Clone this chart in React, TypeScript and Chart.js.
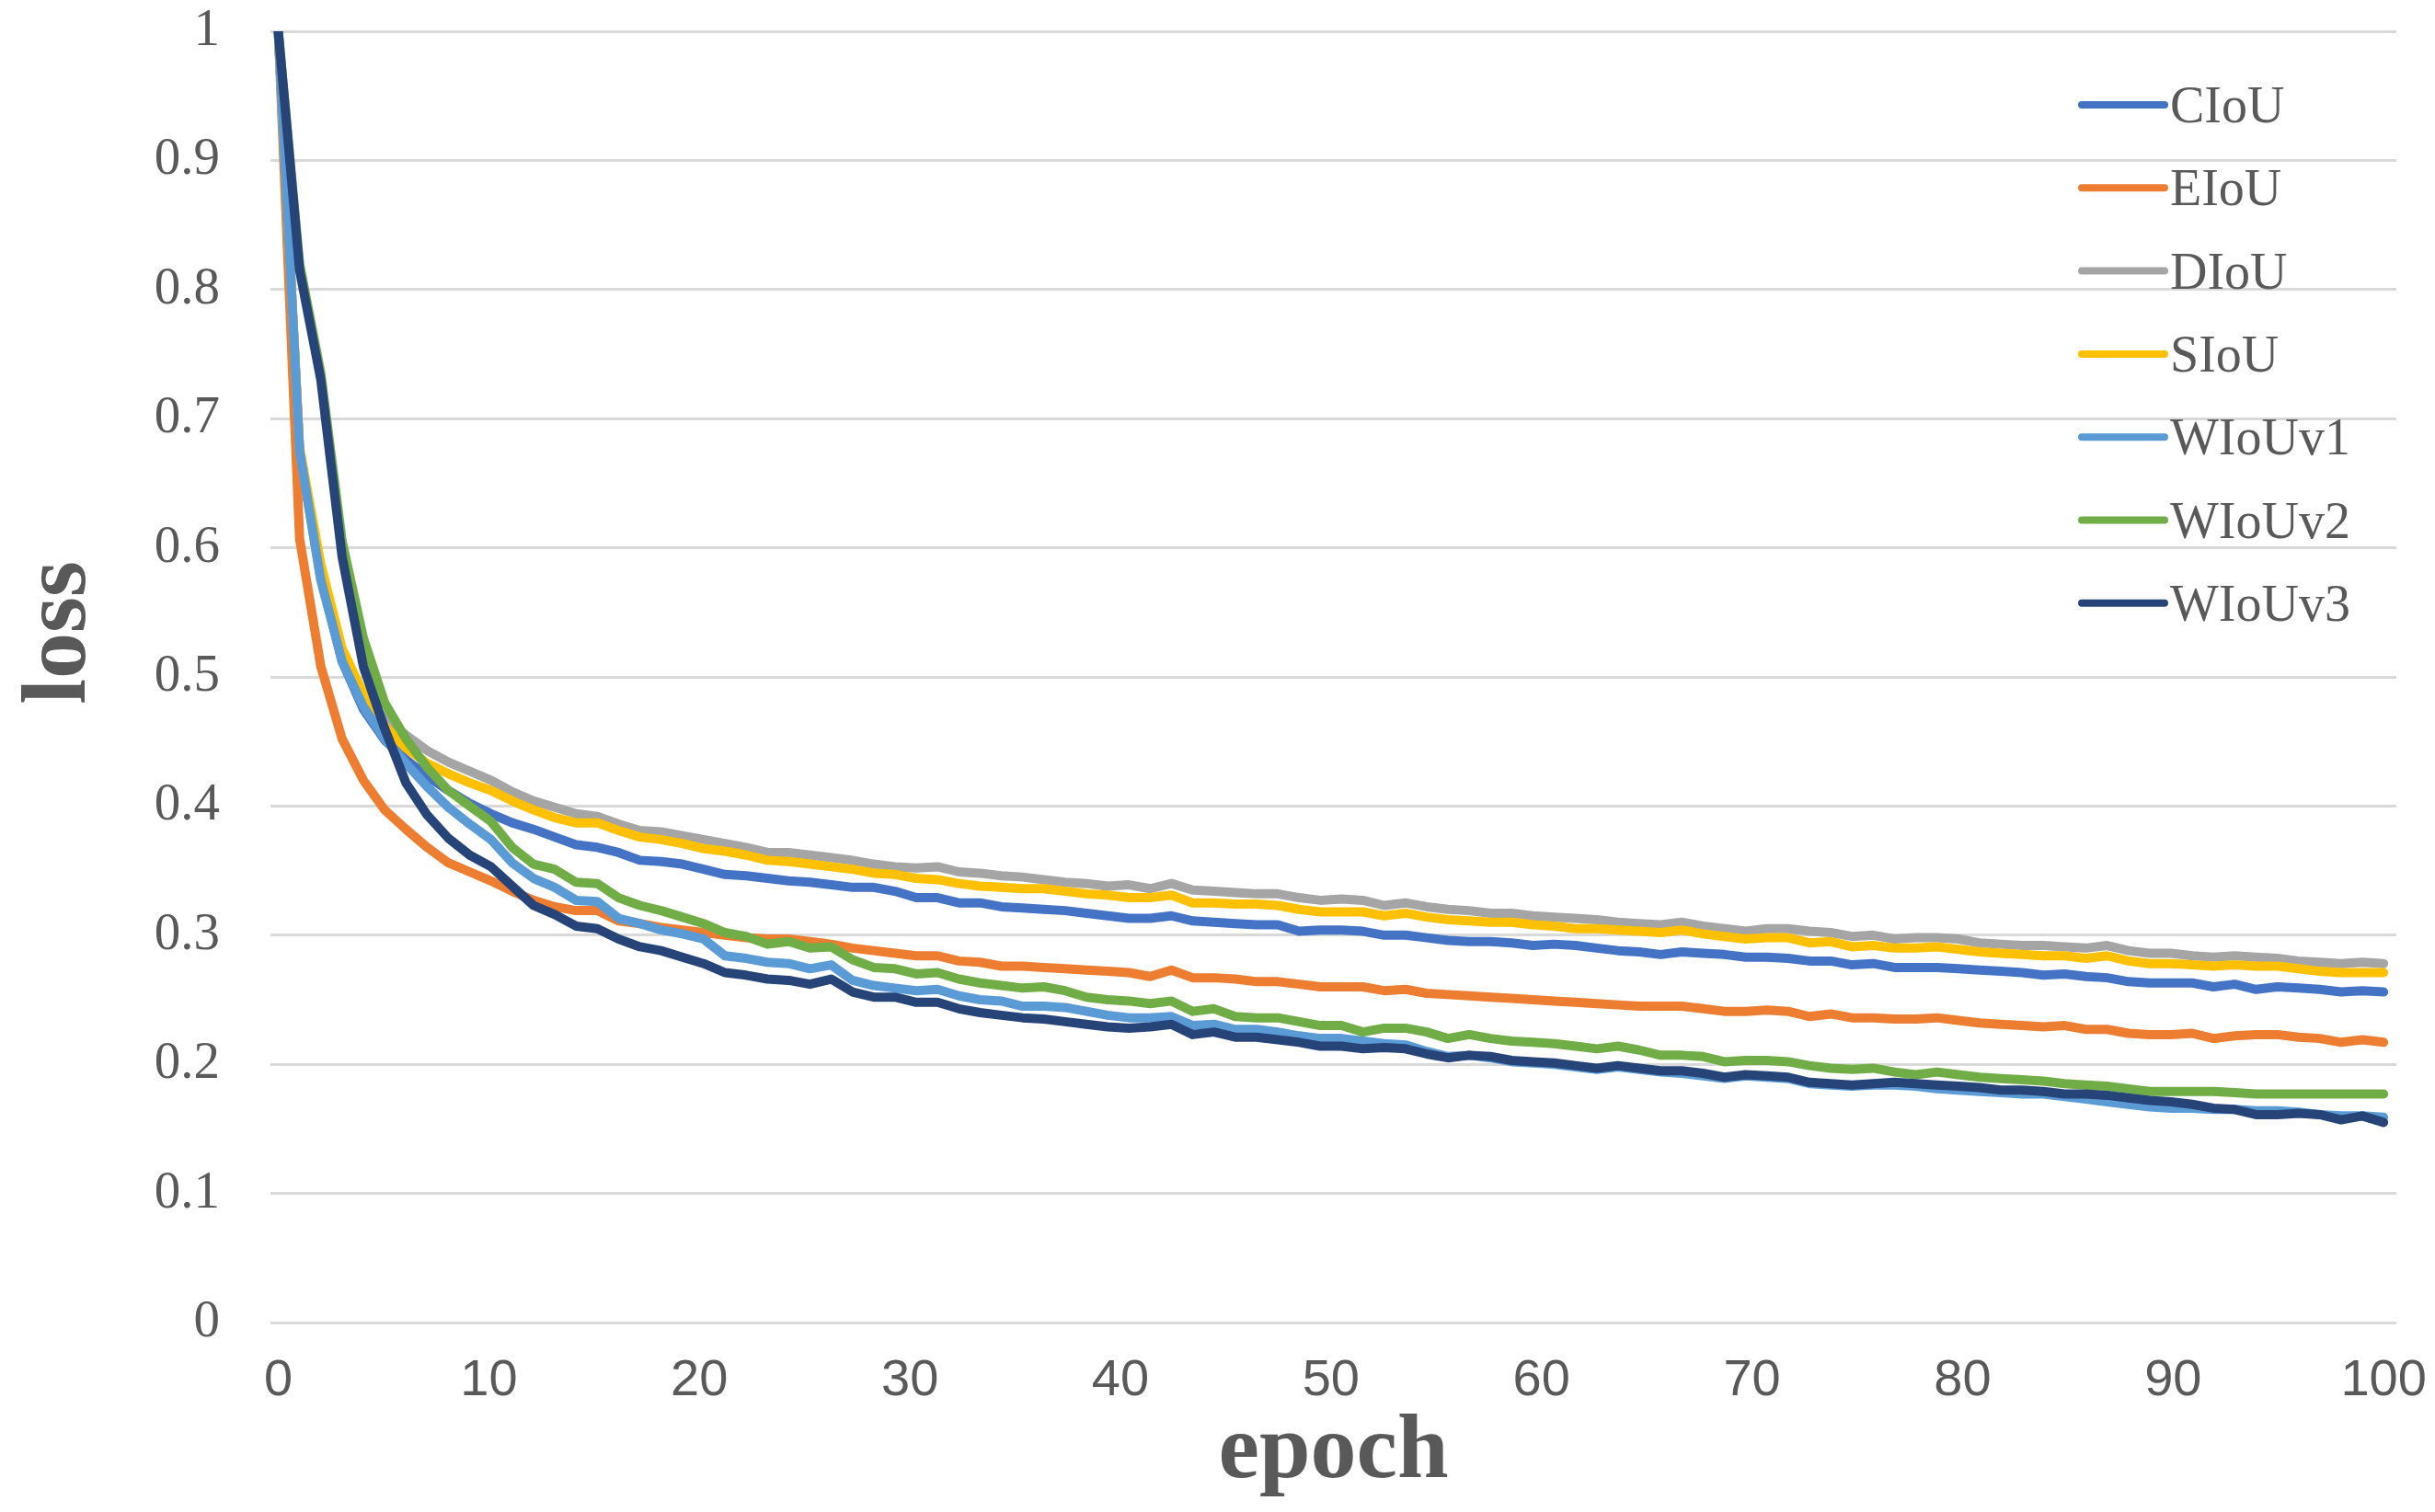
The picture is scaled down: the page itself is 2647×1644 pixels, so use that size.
import React, { useEffect, useRef } from "react";
import { Chart, registerables } from "chart.js";

Chart.register(...registerables);

// ---------------- data ----------------
const SERIES_NAMES = ["CIoU", "EIoU", "DIoU", "SIoU", "WIoUv1", "WIoUv2", "WIoUv3"];
const SERIES_COLORS = ["#4472C4", "#ED7D31", "#A5A5A5", "#FFC000", "#5B9BD5", "#70AD47", "#264478"];

const X_TICK_LABELS = ["0", "10", "20", "30", "40", "50", "60", "70", "80", "90", "100"];
const Y_TICK_VALUES = [0, 0.1, 0.2, 0.3, 0.4, 0.5, 0.6, 0.7, 0.8, 0.9, 1];
const Y_TICK_LABELS = ["0", "0.1", "0.2", "0.3", "0.4", "0.5", "0.6", "0.7", "0.8", "0.9", "1"];

const CIOU = [
  1.0, 0.675, 0.578, 0.512, 0.475, 0.451, 0.436, 0.423, 0.412, 0.402,
  0.394, 0.387, 0.382, 0.376, 0.370, 0.368, 0.364, 0.358, 0.357, 0.355,
  0.351, 0.347, 0.346, 0.344, 0.342, 0.341, 0.339, 0.337, 0.337, 0.334,
  0.329, 0.329, 0.325, 0.325, 0.322, 0.321, 0.320, 0.319, 0.317, 0.315,
  0.313, 0.313, 0.315, 0.311, 0.310, 0.309, 0.308, 0.308, 0.303, 0.304,
  0.304, 0.303, 0.300, 0.300, 0.298, 0.296, 0.295, 0.295, 0.294, 0.292,
  0.293, 0.292, 0.290, 0.288, 0.287, 0.285, 0.287, 0.286, 0.285, 0.283,
  0.283, 0.282, 0.280, 0.280, 0.277, 0.278, 0.275, 0.275, 0.275, 0.274,
  0.273, 0.272, 0.271, 0.269, 0.270, 0.268, 0.267, 0.264, 0.263, 0.263,
  0.263, 0.260, 0.262, 0.258, 0.260, 0.259, 0.258, 0.256, 0.257, 0.256,
];

const EIOU = [
  1.0, 0.607, 0.508, 0.452, 0.420, 0.397, 0.382, 0.368, 0.356, 0.349,
  0.342, 0.334, 0.327, 0.322, 0.319, 0.319, 0.311, 0.309, 0.306, 0.304,
  0.302, 0.300, 0.298, 0.297, 0.297, 0.295, 0.293, 0.290, 0.288, 0.286,
  0.284, 0.284, 0.280, 0.279, 0.276, 0.276, 0.275, 0.274, 0.273, 0.272,
  0.271, 0.268, 0.273, 0.267, 0.267, 0.266, 0.264, 0.264, 0.262, 0.260,
  0.260, 0.260, 0.257, 0.258, 0.255, 0.254, 0.253, 0.252, 0.251, 0.250,
  0.249, 0.248, 0.247, 0.246, 0.245, 0.245, 0.245, 0.243, 0.241, 0.241,
  0.242, 0.241, 0.237, 0.239, 0.236, 0.236, 0.235, 0.235, 0.236, 0.234,
  0.232, 0.231, 0.230, 0.229, 0.230, 0.227, 0.227, 0.224, 0.223, 0.223,
  0.224, 0.220, 0.222, 0.223, 0.223, 0.221, 0.220, 0.217, 0.219, 0.217,
];

const DIOU = [
  1.0, 0.675, 0.575, 0.515, 0.485, 0.468, 0.455, 0.443, 0.434, 0.427,
  0.420, 0.411, 0.404, 0.399, 0.394, 0.392, 0.386, 0.381, 0.380, 0.377,
  0.374, 0.371, 0.368, 0.364, 0.364, 0.362, 0.360, 0.358, 0.355, 0.353,
  0.352, 0.353, 0.349, 0.348, 0.346, 0.345, 0.343, 0.341, 0.340, 0.338,
  0.339, 0.336, 0.340, 0.335, 0.334, 0.333, 0.332, 0.332, 0.329, 0.327,
  0.328, 0.327, 0.323, 0.325, 0.322, 0.320, 0.319, 0.317, 0.317, 0.315,
  0.314, 0.313, 0.312, 0.310, 0.309, 0.308, 0.310, 0.307, 0.305, 0.303,
  0.305, 0.305, 0.303, 0.302, 0.299, 0.300, 0.297, 0.298, 0.298, 0.297,
  0.294, 0.293, 0.292, 0.292, 0.291, 0.290, 0.292, 0.288, 0.286, 0.286,
  0.284, 0.283, 0.284, 0.283, 0.282, 0.280, 0.279, 0.278, 0.279, 0.278,
];

const SIOU = [
  1.0, 0.678, 0.587, 0.522, 0.487, 0.462, 0.445, 0.433, 0.425, 0.418,
  0.412, 0.404, 0.397, 0.391, 0.387, 0.387, 0.381, 0.376, 0.374, 0.371,
  0.367, 0.365, 0.362, 0.358, 0.357, 0.355, 0.353, 0.351, 0.348, 0.347,
  0.344, 0.343, 0.340, 0.338, 0.337, 0.336, 0.336, 0.334, 0.332, 0.331,
  0.329, 0.329, 0.331, 0.325, 0.325, 0.324, 0.324, 0.323, 0.320, 0.318,
  0.318, 0.318, 0.315, 0.317, 0.314, 0.312, 0.311, 0.310, 0.310, 0.308,
  0.307, 0.305, 0.305, 0.304, 0.303, 0.302, 0.304, 0.301, 0.299, 0.297,
  0.298, 0.298, 0.294, 0.295, 0.291, 0.292, 0.290, 0.290, 0.291, 0.289,
  0.287, 0.286, 0.285, 0.284, 0.284, 0.282, 0.284, 0.280, 0.278, 0.278,
  0.277, 0.276, 0.277, 0.276, 0.276, 0.274, 0.272, 0.271, 0.271, 0.271,
];

const WIOUV1 = [
  1.0, 0.675, 0.575, 0.512, 0.477, 0.452, 0.433, 0.415, 0.399, 0.386,
  0.374, 0.356, 0.344, 0.337, 0.327, 0.326, 0.313, 0.309, 0.304, 0.301,
  0.297, 0.284, 0.282, 0.279, 0.278, 0.274, 0.277, 0.265, 0.261, 0.259,
  0.257, 0.258, 0.253, 0.250, 0.249, 0.245, 0.245, 0.244, 0.241, 0.238,
  0.236, 0.236, 0.237, 0.230, 0.231, 0.227, 0.227, 0.225, 0.222, 0.220,
  0.220, 0.218, 0.216, 0.215, 0.210, 0.206, 0.207, 0.205, 0.202, 0.201,
  0.200, 0.198, 0.196, 0.198, 0.196, 0.194, 0.193, 0.191, 0.189, 0.191,
  0.190, 0.189, 0.185, 0.184, 0.183, 0.184, 0.184, 0.183, 0.181, 0.180,
  0.179, 0.178, 0.177, 0.177, 0.175, 0.173, 0.171, 0.169, 0.167, 0.166,
  0.166, 0.165, 0.165, 0.164, 0.164, 0.163, 0.161, 0.160, 0.160, 0.159,
];

const WIOUV2 = [
  1.0, 0.820, 0.735, 0.605, 0.530, 0.480, 0.452, 0.430, 0.412, 0.400,
  0.388, 0.368, 0.355, 0.351, 0.341, 0.340, 0.329, 0.323, 0.319, 0.314,
  0.309, 0.302, 0.299, 0.293, 0.295, 0.290, 0.291, 0.281, 0.275, 0.274,
  0.270, 0.271, 0.266, 0.263, 0.261, 0.259, 0.260, 0.257, 0.252, 0.250,
  0.249, 0.247, 0.249, 0.241, 0.243, 0.237, 0.236, 0.236, 0.233, 0.230,
  0.230, 0.225, 0.228, 0.228, 0.225, 0.220, 0.223, 0.220, 0.218, 0.217,
  0.216, 0.214, 0.212, 0.214, 0.211, 0.207, 0.207, 0.206, 0.202, 0.203,
  0.203, 0.202, 0.199, 0.197, 0.196, 0.197, 0.194, 0.192, 0.194, 0.192,
  0.190, 0.189, 0.188, 0.187, 0.185, 0.184, 0.183, 0.181, 0.179, 0.179,
  0.179, 0.179, 0.178, 0.177, 0.177, 0.177, 0.177, 0.177, 0.177, 0.177,
];

const WIOUV3 = [
  1.0, 0.815, 0.730, 0.593, 0.508, 0.460, 0.418, 0.393, 0.375, 0.362,
  0.353, 0.338, 0.323, 0.316, 0.307, 0.305, 0.297, 0.291, 0.288, 0.283,
  0.278, 0.271, 0.269, 0.266, 0.265, 0.262, 0.266, 0.256, 0.252, 0.252,
  0.248, 0.248, 0.243, 0.240, 0.238, 0.236, 0.235, 0.233, 0.231, 0.229,
  0.228, 0.229, 0.231, 0.223, 0.225, 0.221, 0.221, 0.219, 0.217, 0.214,
  0.214, 0.212, 0.213, 0.212, 0.208, 0.205, 0.207, 0.206, 0.203, 0.202,
  0.201, 0.199, 0.197, 0.199, 0.197, 0.195, 0.195, 0.193, 0.190, 0.192,
  0.191, 0.190, 0.186, 0.185, 0.184, 0.185, 0.186, 0.185, 0.184, 0.183,
  0.182, 0.180, 0.180, 0.179, 0.177, 0.177, 0.176, 0.174, 0.172, 0.171,
  0.169, 0.166, 0.165, 0.161, 0.161, 0.162, 0.161, 0.157, 0.160, 0.155,
];

const SERIES_VALUES = [CIOU, EIOU, DIOU, SIOU, WIOUV1, WIOUV2, WIOUV3];

const X_TITLE = "epoch";
const Y_TITLE = "loss";

// ---------------- styling ----------------
const W = 2647;
const H = 1644;
const SERIF = '"Liberation Serif", "Times New Roman", serif';
const SANS = '"Liberation Sans", Arial, sans-serif';
const TEXT_COLOR = "#595959";

const zeroPadding = (scale: any) => {
  scale.paddingTop = 0;
  scale.paddingBottom = 0;
  scale.paddingLeft = 0;
  scale.paddingRight = 0;
};

const overlayPlugin = {
  id: "overlay",
  afterDraw(chart: any) {
    const ctx: CanvasRenderingContext2D = chart.ctx;
    ctx.save();
    // y axis title
    ctx.fillStyle = TEXT_COLOR;
    ctx.font = `bold 100px ${SERIF}`;
    ctx.textAlign = "center";
    ctx.textBaseline = "alphabetic";
    ctx.translate(92, 688);
    ctx.rotate(-Math.PI / 2);
    ctx.fillText(Y_TITLE, 0, 0);
    ctx.restore();

    // legend
    ctx.save();
    const x0 = 2263;
    const x1 = 2353;
    const top = 114;
    const step = 90.3;
    ctx.font = `56px ${SERIF}`;
    ctx.textAlign = "left";
    ctx.textBaseline = "alphabetic";
    chart.data.datasets.forEach((ds: any, i: number) => {
      const y = top + i * step;
      ctx.strokeStyle = ds.borderColor;
      ctx.lineWidth = 8;
      ctx.lineCap = "round";
      ctx.beginPath();
      ctx.moveTo(x0, y);
      ctx.lineTo(x1, y);
      ctx.stroke();
      ctx.fillStyle = TEXT_COLOR;
      ctx.fillText(ds.label, x1 + 6, y + 19);
    });
    ctx.restore();
  },
};

export default function App() {
  const ref = useRef<HTMLCanvasElement | null>(null);

  useEffect(() => {
    if (!ref.current) return;
    const n = SERIES_VALUES[0].length;
    const datasets = SERIES_NAMES.map((name, i) => ({
      label: name,
      data: SERIES_VALUES[i].map((v, idx) => ({ x: idx, y: v })),
      borderColor: SERIES_COLORS[i],
      backgroundColor: SERIES_COLORS[i],
      borderWidth: 10,
      pointRadius: 0,
      pointHoverRadius: 0,
      tension: 0,
      fill: false,
      borderCapStyle: "round" as const,
      borderJoinStyle: "round" as const,
      order: SERIES_NAMES.length - i,
    }));

    const chart = new Chart(ref.current, {
      type: "line",
      data: { datasets },
      options: {
        responsive: false,
        animation: false,
        devicePixelRatio: 1,
        layout: { padding: { left: 0, top: 34, right: 42, bottom: 0 } },
        plugins: {
          legend: { display: false },
          tooltip: { enabled: false },
        },
        scales: {
          x: {
            type: "linear",
            min: -0.37,
            max: n - 1 + 0.6,
            grid: { display: false, drawTicks: false },
            border: { display: false },
            afterBuildTicks: (scale: any) => {
              scale.ticks = X_TICK_LABELS.map((_, k) => ({
                value: (k * (n - 1)) / (X_TICK_LABELS.length - 1),
              }));
            },
            afterFit: (scale: any) => {
              scale.height = H - 1438;
              zeroPadding(scale);
            },
            ticks: {
              autoSkip: false,
              maxRotation: 0,
              padding: 30,
              color: TEXT_COLOR,
              font: { family: SANS, size: 56 },
              callback: (_v: any, idx: number) => X_TICK_LABELS[idx],
            },
            title: {
              display: true,
              text: X_TITLE,
              color: TEXT_COLOR,
              font: { family: SERIF, size: 100, weight: "bold" },
              padding: { top: 0, bottom: 4 },
            },
          },
          y: {
            type: "linear",
            min: 0,
            max: 1,
            grid: { color: "#d9d9d9", lineWidth: 3, drawTicks: false },
            border: { display: false },
            afterBuildTicks: (scale: any) => {
              scale.ticks = Y_TICK_VALUES.map((v) => ({ value: v }));
            },
            afterFit: (scale: any) => {
              scale.width = 294;
              zeroPadding(scale);
            },
            ticks: {
              padding: 55,
              color: TEXT_COLOR,
              font: { family: SERIF, size: 57 },
              callback: (_v: any, idx: number) => Y_TICK_LABELS[idx],
            },
          },
        },
      },
      plugins: [overlayPlugin],
    });
    return () => chart.destroy();
  }, []);

  return (
    <div style={{ position: "absolute", left: 0, top: 0, width: W, height: H, background: "#ffffff" }}>
      <canvas ref={ref} width={W} height={H} style={{ display: "block", width: W, height: H }} />
    </div>
  );
}
